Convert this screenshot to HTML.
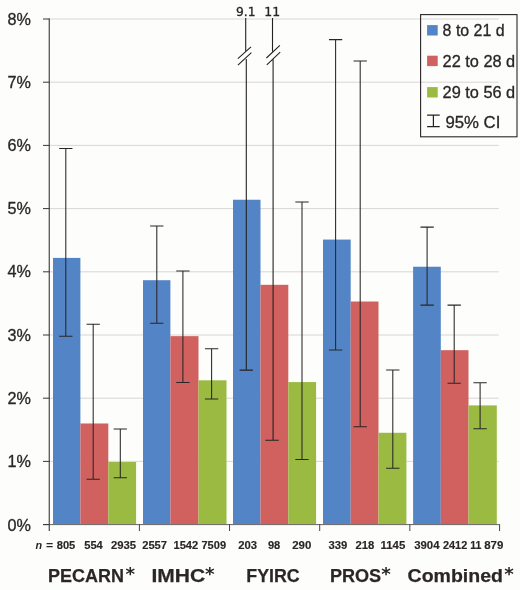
<!DOCTYPE html><html><head><meta charset="utf-8"><title>Chart</title><style>html,body{margin:0;padding:0;background:#fdfdfc}svg{display:block}text{font-family:"Liberation Sans",sans-serif;fill:#2a2627}.r{stroke:#2a2627;stroke-width:0.3px}</style></head><body>
<svg width="520" height="590" viewBox="0 0 520 590">
<rect width="520" height="590" fill="#fdfdfc"/>
<line x1="49.5" x2="498.7" y1="461.40" y2="461.40" stroke="#d6d1cf" stroke-width="0.9"/>
<line x1="49.5" x2="498.7" y1="398.20" y2="398.20" stroke="#d6d1cf" stroke-width="0.9"/>
<line x1="49.5" x2="498.7" y1="335.00" y2="335.00" stroke="#d6d1cf" stroke-width="0.9"/>
<line x1="49.5" x2="498.7" y1="271.80" y2="271.80" stroke="#d6d1cf" stroke-width="0.9"/>
<line x1="49.5" x2="498.7" y1="208.60" y2="208.60" stroke="#d6d1cf" stroke-width="0.9"/>
<line x1="49.5" x2="498.7" y1="145.40" y2="145.40" stroke="#d6d1cf" stroke-width="0.9"/>
<line x1="49.5" x2="498.7" y1="82.20" y2="82.20" stroke="#d6d1cf" stroke-width="0.9"/>
<line x1="49.5" x2="498.7" y1="19.00" y2="19.00" stroke="#d6d1cf" stroke-width="0.9"/>
<rect x="53.00" y="257.90" width="27.40" height="266.40" fill="#5384c5"/>
<rect x="80.40" y="423.48" width="27.90" height="100.82" fill="#d0615f"/>
<rect x="108.30" y="462.03" width="27.80" height="62.27" fill="#9aba41"/>
<rect x="143.00" y="280.21" width="27.40" height="244.09" fill="#5384c5"/>
<rect x="170.40" y="336.14" width="28.10" height="188.16" fill="#d0615f"/>
<rect x="198.50" y="380.31" width="28.00" height="143.99" fill="#9aba41"/>
<rect x="233.00" y="199.75" width="27.50" height="324.55" fill="#5384c5"/>
<rect x="260.50" y="284.82" width="27.80" height="239.48" fill="#d0615f"/>
<rect x="288.30" y="382.08" width="27.80" height="142.22" fill="#9aba41"/>
<rect x="323.00" y="239.57" width="27.70" height="284.73" fill="#5384c5"/>
<rect x="350.70" y="301.50" width="27.80" height="222.80" fill="#d0615f"/>
<rect x="378.50" y="432.77" width="27.90" height="91.53" fill="#9aba41"/>
<rect x="413.10" y="266.74" width="27.70" height="257.56" fill="#5384c5"/>
<rect x="440.80" y="350.17" width="27.70" height="174.13" fill="#d0615f"/>
<rect x="468.50" y="405.40" width="28.30" height="118.90" fill="#9aba41"/>
<line x1="49.25" x2="49.25" y1="18.5" y2="531" stroke="#3a3636" stroke-width="1.1"/>
<line x1="43" x2="499.6" y1="524.6" y2="524.6" stroke="#686464" stroke-width="1"/>
<line x1="43" x2="49.5" y1="524.60" y2="524.60" stroke="#3a3636" stroke-width="1"/>
<line x1="43" x2="49.5" y1="461.40" y2="461.40" stroke="#3a3636" stroke-width="1"/>
<line x1="43" x2="49.5" y1="398.20" y2="398.20" stroke="#3a3636" stroke-width="1"/>
<line x1="43" x2="49.5" y1="335.00" y2="335.00" stroke="#3a3636" stroke-width="1"/>
<line x1="43" x2="49.5" y1="271.80" y2="271.80" stroke="#3a3636" stroke-width="1"/>
<line x1="43" x2="49.5" y1="208.60" y2="208.60" stroke="#3a3636" stroke-width="1"/>
<line x1="43" x2="49.5" y1="145.40" y2="145.40" stroke="#3a3636" stroke-width="1"/>
<line x1="43" x2="49.5" y1="82.20" y2="82.20" stroke="#3a3636" stroke-width="1"/>
<line x1="43" x2="49.5" y1="19.00" y2="19.00" stroke="#3a3636" stroke-width="1"/>
<line x1="139.40" x2="139.40" y1="524.2" y2="531" stroke="#4a4646" stroke-width="1"/>
<line x1="229.55" x2="229.55" y1="524.2" y2="531" stroke="#4a4646" stroke-width="1"/>
<line x1="319.70" x2="319.70" y1="524.2" y2="531" stroke="#4a4646" stroke-width="1"/>
<line x1="409.85" x2="409.85" y1="524.2" y2="531" stroke="#4a4646" stroke-width="1"/>
<line x1="499.60" x2="499.60" y1="524.2" y2="531" stroke="#4a4646" stroke-width="1"/>
<path d="M65.80 148.56V336.26M59.15 148.56h13.3M59.15 336.26h13.3" stroke="#2a2627" stroke-width="1.05" fill="none"/>
<path d="M93.20 324.26V479.29M86.55 324.26h13.3M86.55 479.29h13.3" stroke="#2a2627" stroke-width="1.05" fill="none"/>
<path d="M120.30 428.92V477.83M113.65 428.92h13.3M113.65 477.83h13.3" stroke="#2a2627" stroke-width="1.05" fill="none"/>
<path d="M156.80 225.98V323.31M150.15 225.98h13.3M150.15 323.31h13.3" stroke="#2a2627" stroke-width="1.05" fill="none"/>
<path d="M182.90 270.92V382.40M176.25 270.92h13.3M176.25 382.40h13.3" stroke="#2a2627" stroke-width="1.05" fill="none"/>
<path d="M211.60 348.71V399.02M204.95 348.71h13.3M204.95 399.02h13.3" stroke="#2a2627" stroke-width="1.05" fill="none"/>
<path d="M302.00 201.90V459.50M295.35 201.90h13.3M295.35 459.50h13.3" stroke="#2a2627" stroke-width="1.05" fill="none"/>
<path d="M335.60 39.60V349.98M328.95 39.60h13.3M328.95 349.98h13.3" stroke="#2a2627" stroke-width="1.05" fill="none"/>
<path d="M360.20 60.90V426.77M353.55 60.90h13.3M353.55 426.77h13.3" stroke="#2a2627" stroke-width="1.05" fill="none"/>
<path d="M392.80 370.01V468.16M386.15 370.01h13.3M386.15 468.16h13.3" stroke="#2a2627" stroke-width="1.05" fill="none"/>
<path d="M427.10 227.12V305.11M420.45 227.12h13.3M420.45 305.11h13.3" stroke="#2a2627" stroke-width="1.05" fill="none"/>
<path d="M454.20 305.11V383.28M447.55 305.11h13.3M447.55 383.28h13.3" stroke="#2a2627" stroke-width="1.05" fill="none"/>
<path d="M480.10 382.78V428.73M473.45 382.78h13.3M473.45 428.73h13.3" stroke="#2a2627" stroke-width="1.05" fill="none"/>
<path d="M245.7 18V52M246.3 59V370.1M239.6 370.1h13.3M237.9 58.6L251 46.8M237.9 65.1L251.4 52.6" stroke="#262223" stroke-width="1.1" fill="none"/>
<path d="M272.5 18V51.5M273.1 58.5V440.2M265.4 440.2h13.3M266.4 58L279.9 45.4M266.8 64.8L280.2 52.2" stroke="#262223" stroke-width="1.1" fill="none"/>
<text class="r" x="236" y="16.1" font-size="12.3" style="font-family:'DejaVu Sans',sans-serif" textLength="19.6" lengthAdjust="spacingAndGlyphs">9.1</text>
<text class="r" x="264.3" y="16.1" font-size="12.3" style="font-family:'DejaVu Sans',sans-serif" textLength="15.9" lengthAdjust="spacingAndGlyphs">11</text>
<text class="r" x="7.6" y="530.80" font-size="15.8" textLength="23.4" lengthAdjust="spacingAndGlyphs">0%</text>
<text class="r" x="7.6" y="467.00" font-size="15.8" textLength="23.4" lengthAdjust="spacingAndGlyphs">1%</text>
<text class="r" x="7.6" y="403.80" font-size="15.8" textLength="23.4" lengthAdjust="spacingAndGlyphs">2%</text>
<text class="r" x="7.6" y="340.60" font-size="15.8" textLength="23.4" lengthAdjust="spacingAndGlyphs">3%</text>
<text class="r" x="7.6" y="277.40" font-size="15.8" textLength="23.4" lengthAdjust="spacingAndGlyphs">4%</text>
<text class="r" x="7.6" y="214.20" font-size="15.8" textLength="23.4" lengthAdjust="spacingAndGlyphs">5%</text>
<text class="r" x="7.6" y="151.00" font-size="15.8" textLength="23.4" lengthAdjust="spacingAndGlyphs">6%</text>
<text class="r" x="7.6" y="87.80" font-size="15.8" textLength="23.4" lengthAdjust="spacingAndGlyphs">7%</text>
<text class="r" x="7.6" y="24.60" font-size="15.8" textLength="23.4" lengthAdjust="spacingAndGlyphs">8%</text>
<text x="35.6" y="548.6" font-size="10.8" font-weight="bold" font-style="italic">n</text>
<text x="46" y="548.9" font-size="10.5" font-weight="bold" textLength="7.2" lengthAdjust="spacingAndGlyphs">=</text>
<text x="56.70" y="548.6" font-size="10.5" font-weight="bold" stroke="#2a2627" stroke-width="0.15" textLength="18.60" lengthAdjust="spacingAndGlyphs">805</text>
<text x="84.20" y="548.6" font-size="10.5" font-weight="bold" stroke="#2a2627" stroke-width="0.15" textLength="18.60" lengthAdjust="spacingAndGlyphs">554</text>
<text x="110.95" y="548.6" font-size="10.5" font-weight="bold" stroke="#2a2627" stroke-width="0.15" textLength="25.10" lengthAdjust="spacingAndGlyphs">2935</text>
<text x="142.20" y="548.6" font-size="10.5" font-weight="bold" stroke="#2a2627" stroke-width="0.15" textLength="24.85" lengthAdjust="spacingAndGlyphs">2557</text>
<text x="173.45" y="548.6" font-size="10.5" font-weight="bold" stroke="#2a2627" stroke-width="0.15" textLength="24.85" lengthAdjust="spacingAndGlyphs">1542</text>
<text x="201.45" y="548.6" font-size="10.5" font-weight="bold" stroke="#2a2627" stroke-width="0.15" textLength="24.60" lengthAdjust="spacingAndGlyphs">7509</text>
<text x="238.20" y="548.6" font-size="10.5" font-weight="bold" stroke="#2a2627" stroke-width="0.15" textLength="18.85" lengthAdjust="spacingAndGlyphs">203</text>
<text x="267.95" y="548.6" font-size="10.5" font-weight="bold" stroke="#2a2627" stroke-width="0.15" textLength="12.35" lengthAdjust="spacingAndGlyphs">98</text>
<text x="292.20" y="548.6" font-size="10.5" font-weight="bold" stroke="#2a2627" stroke-width="0.15" textLength="19.10" lengthAdjust="spacingAndGlyphs">290</text>
<text x="328.45" y="548.6" font-size="10.5" font-weight="bold" stroke="#2a2627" stroke-width="0.15" textLength="18.85" lengthAdjust="spacingAndGlyphs">339</text>
<text x="355.45" y="548.6" font-size="10.5" font-weight="bold" stroke="#2a2627" stroke-width="0.15" textLength="18.85" lengthAdjust="spacingAndGlyphs">218</text>
<text x="380.45" y="548.6" font-size="10.5" font-weight="bold" stroke="#2a2627" stroke-width="0.15" textLength="24.85" lengthAdjust="spacingAndGlyphs">1145</text>
<text x="414.20" y="548.6" font-size="10.5" font-weight="bold" stroke="#2a2627" stroke-width="0.15" textLength="25.35" lengthAdjust="spacingAndGlyphs">3904</text>
<text x="442.95" y="548.6" font-size="10.5" font-weight="bold" stroke="#2a2627" stroke-width="0.15" textLength="24.35" lengthAdjust="spacingAndGlyphs">2412</text>
<text x="470.30" y="548.6" font-size="10.5" font-weight="bold" stroke="#2a2627" stroke-width="0.15" textLength="11.20" lengthAdjust="spacingAndGlyphs">11</text>
<text x="484.20" y="548.6" font-size="10.5" font-weight="bold" stroke="#2a2627" stroke-width="0.15" textLength="19.10" lengthAdjust="spacingAndGlyphs">879</text>
<text x="48.05" y="581.8" font-size="18.9" font-weight="bold" fill="#3a3233" stroke="#3a3233" stroke-width="0.25" textLength="75.95" lengthAdjust="spacingAndGlyphs">PECARN</text>
<text x="125.60" y="579.6" font-size="18.3" font-weight="bold" fill="#3a3233" style="font-family:'DejaVu Sans',sans-serif">*</text>
<text x="151.50" y="581.8" font-size="18.9" font-weight="bold" fill="#3a3233" stroke="#3a3233" stroke-width="0.25" textLength="53.70" lengthAdjust="spacingAndGlyphs">IMHC</text>
<text x="204.90" y="579.6" font-size="18.3" font-weight="bold" fill="#3a3233" style="font-family:'DejaVu Sans',sans-serif">*</text>
<text x="246.30" y="581.8" font-size="18.9" font-weight="bold" fill="#3a3233" stroke="#3a3233" stroke-width="0.25" textLength="53.45" lengthAdjust="spacingAndGlyphs">FYIRC</text>
<text x="329.90" y="581.8" font-size="18.9" font-weight="bold" fill="#3a3233" stroke="#3a3233" stroke-width="0.25" textLength="51.30" lengthAdjust="spacingAndGlyphs">PROS</text>
<text x="381.20" y="579.6" font-size="18.3" font-weight="bold" fill="#3a3233" style="font-family:'DejaVu Sans',sans-serif">*</text>
<text x="407.60" y="581.8" font-size="18.9" font-weight="bold" fill="#3a3233" stroke="#3a3233" stroke-width="0.25" textLength="95.40" lengthAdjust="spacingAndGlyphs">Combined</text>
<text x="504.20" y="579.6" font-size="18.3" font-weight="bold" fill="#3a3233" style="font-family:'DejaVu Sans',sans-serif">*</text>
<rect x="420.6" y="14.6" width="96.4" height="122.2" fill="none" stroke="#2a2627" stroke-width="1.1"/>
<rect x="427.1" y="25.10" width="10.6" height="10.4" fill="#5384c5"/>
<rect x="427.1" y="55.70" width="10.6" height="10.4" fill="#d0615f"/>
<rect x="427.1" y="87.10" width="10.6" height="10.4" fill="#9aba41"/>
<text class="r" x="442.6" y="35.9" font-size="16" textLength="62" lengthAdjust="spacingAndGlyphs">8 to 21 d</text>
<text class="r" x="442.6" y="66.9" font-size="16" textLength="72.6" lengthAdjust="spacingAndGlyphs">22 to 28 d</text>
<text class="r" x="442.6" y="97.9" font-size="16" textLength="72.6" lengthAdjust="spacingAndGlyphs">29 to 56 d</text>
<path d="M427.1 115.2h12.6M427.1 126.6h12.6M433.4 115.2V126.6" stroke="#262223" stroke-width="1.2" fill="none"/>
<text class="r" x="445.4" y="128.4" font-size="16" textLength="55" lengthAdjust="spacingAndGlyphs">95% CI</text>
</svg></body></html>
